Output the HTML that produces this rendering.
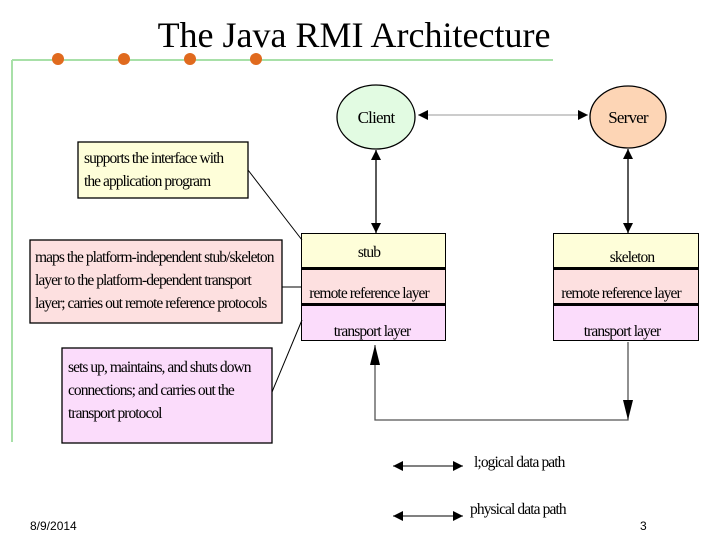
<!DOCTYPE html>
<html><head><style>
body{margin:0;width:720px;height:540px;background:#fff;overflow:hidden}
svg text{font-family:"Liberation Serif",serif}
</style></head><body>
<svg width="720" height="540" xmlns="http://www.w3.org/2000/svg">
<text x="354" y="47" font-size="36" text-anchor="middle">The Java RMI Architecture</text>
<line x1="12" y1="60" x2="553" y2="60" stroke="#a8e0a8" stroke-width="2"/>
<line x1="12" y1="60" x2="12" y2="442" stroke="#a8e0a8" stroke-width="2"/>
<g fill="#e06a1e"><circle cx="58" cy="59" r="6"/><circle cx="124" cy="59" r="6"/><circle cx="190" cy="59" r="6"/><circle cx="256" cy="59" r="6"/></g>
<defs><marker id="a" viewBox="0 0 10 10" refX="10" refY="5" markerWidth="12" markerHeight="10" markerUnits="userSpaceOnUse" orient="auto-start-reverse"><path d="M0,0L10,5L0,10z" fill="#000"/></marker></defs>
<ellipse cx="376" cy="117" rx="39" ry="32" fill="#e2fbe2" stroke="#000" stroke-width="1.3"/>
<text x="376" y="123" font-size="17" text-anchor="middle" letter-spacing="-0.8">Client</text>
<ellipse cx="628" cy="117" rx="38" ry="31" fill="#fdd5b5" stroke="#000" stroke-width="1.3"/>
<text x="628" y="123" font-size="17" text-anchor="middle" letter-spacing="-0.8">Server</text>
<line x1="418" y1="115" x2="588" y2="115" stroke="#999" marker-start="url(#a)" marker-end="url(#a)"/>
<line x1="376" y1="150" x2="376" y2="233" stroke="#000" stroke-width="1.3" marker-start="url(#a)" marker-end="url(#a)"/>
<line x1="628" y1="149" x2="628" y2="233" stroke="#000" stroke-width="1.3" marker-start="url(#a)" marker-end="url(#a)"/>
<g font-size="15.5" text-anchor="middle" letter-spacing="-0.9">
<rect x="301" y="233" width="145" height="108" fill="#000"/>
<rect x="302" y="234" width="143" height="33" fill="#fefed9"/>
<rect x="302" y="270" width="143" height="33" fill="#fde0e0"/>
<rect x="302" y="306" width="143" height="34" fill="#fbdcfb"/>
<text x="369" y="257">stub</text><text x="369" y="298">remote reference layer</text><text x="372" y="336">transport layer</text>
<rect x="553" y="233" width="146" height="108" fill="#000"/>
<rect x="554" y="234" width="144" height="33" fill="#fefed9"/>
<rect x="554" y="270" width="144" height="33" fill="#fde0e0"/>
<rect x="554" y="306" width="144" height="34" fill="#fbdcfb"/>
<text x="632" y="262">skeleton</text><text x="621" y="298">remote reference layer</text><text x="622" y="336">transport layer</text>
</g>
<polyline points="628,342 628,420 375,420 375,345" fill="none" stroke="#555" stroke-width="1.3"/>
<path d="M370,365L375,345L380,365z" fill="#000"/>
<path d="M623,400L628,420L633,400z" fill="#000"/>
<g font-size="15.5" letter-spacing="-0.95">
<rect x="78" y="142" width="170" height="56" fill="#fefed9" stroke="#000" stroke-width="1.3"/>
<text x="84" y="163">supports the interface with</text><text x="84" y="186">the application program</text>
<rect x="30" y="240" width="252" height="83" fill="#fde0e0" stroke="#000" stroke-width="1.3"/>
<text x="35" y="262">maps the platform-independent stub/skeleton</text><text x="35" y="285">layer to the platform-dependent transport</text><text x="35" y="308">layer; carries out remote reference protocols</text>
<rect x="62" y="348" width="210" height="95" fill="#fbdcfb" stroke="#000" stroke-width="1.3"/>
<text x="68" y="372">sets up, maintains, and shuts down</text><text x="68" y="395">connections; and carries out the</text><text x="68" y="418">transport protocol</text>
</g>
<line x1="248" y1="170" x2="302" y2="240" stroke="#000"/>
<line x1="282" y1="287" x2="302" y2="287" stroke="#000"/>
<line x1="272" y1="392" x2="302" y2="320" stroke="#000"/>
<line x1="393" y1="466" x2="463" y2="466" stroke="#000" marker-start="url(#a)" marker-end="url(#a)"/>
<text x="474" y="467" font-size="15.5" letter-spacing="-0.9">l;ogical data path</text>
<line x1="393" y1="516" x2="463" y2="516" stroke="#000" marker-start="url(#a)" marker-end="url(#a)"/>
<text x="470" y="514" font-size="15.5" letter-spacing="-0.9">physical data path</text>
<text x="30" y="530" font-size="12" style="font-family:'Liberation Sans',sans-serif">8/9/2014</text>
<text x="640" y="530" font-size="12" style="font-family:'Liberation Sans',sans-serif">3</text>
</svg>
</body></html>
